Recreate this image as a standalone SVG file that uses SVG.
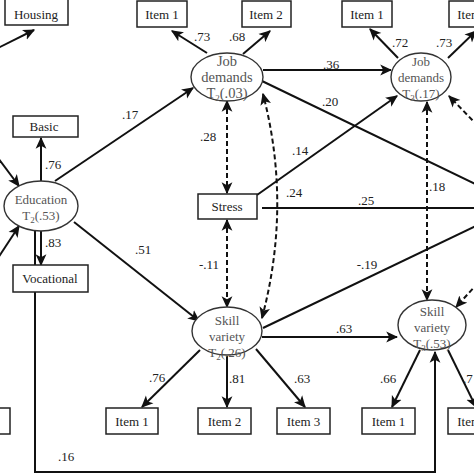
<svg xmlns="http://www.w3.org/2000/svg" width="474" height="474" viewBox="0 0 474 474">
<style>
text{font-family:"Liberation Serif","Times New Roman",serif;font-size:13px;text-anchor:middle;fill:#222}
.lat text{fill:#555}
.box rect{fill:#fff;stroke:#222;stroke-width:1.5}
.lat ellipse{fill:#fff;stroke:#333;stroke-width:1.4}
.c{fill:none;stroke:#111;stroke-width:2}
.a{marker-end:url(#ah)}
.d{fill:none;stroke:#111;stroke-width:2;stroke-dasharray:5,3;marker-start:url(#ah);marker-end:url(#ah)}
.d1{fill:none;stroke:#111;stroke-width:2;stroke-dasharray:5,3;marker-end:url(#ah)}
.lbl{font-size:13px}
#jd2 text{font-size:14.5px}
</style>
<defs>
<marker id="ah" viewBox="0 0 10 10" refX="9" refY="5" markerWidth="12" markerHeight="12" markerUnits="userSpaceOnUse" orient="auto-start-reverse">
<path d="M0,0.5 L10,5 L0,9.5 L2.5,5 z" fill="#111"/>
</marker>
</defs>
<rect width="474" height="474" fill="#fff"/>
<g id="connectors">
<path class="c a" d="M-2,48 L34,30"/>
<path class="c a" d="M-2,158 L19,186"/>
<path class="c a" d="M-2,258 L19,226"/>
<path class="c a" d="M41,182 L41,138"/>
<path class="c a" d="M41,230 L41,265"/>
<path class="c a" d="M35,230 L35,472 L435,472 L435,352" stroke="#555"/>
<path class="c a" d="M55,181 L193,88"/>
<path class="c a" d="M74,222 L199,321"/>
<path class="c a" d="M207,53 L172,31"/>
<path class="c a" d="M243,54 L270,31"/>
<path class="c a" d="M263,70 L391,70"/>
<path class="c" d="M262,81 L490,191"/>
<path class="c a" d="M257,195 L397,96"/>
<path class="c" d="M262,208 L480,208"/>
<path class="c" d="M263,328 L480,224"/>
<path class="c a" d="M262,337 L397,337"/>
<path class="c a" d="M398,58 L370,29"/>
<path class="c a" d="M448,58 L476,31"/>
<path class="c a" d="M200,350 L142,407"/>
<path class="c a" d="M227,356 L227,407"/>
<path class="c a" d="M256,349 L305,407"/>
<path class="c a" d="M420,350 L392,407"/>
<path class="c a" d="M448,350 L476,407"/>
<path class="d" d="M227,101 L227,193"/>
<path class="d" d="M262,318 Q292,205 263,94"/>
<path class="d" d="M227,220 L227,307"/>
<path class="d" d="M427,102 L427,300"/>
<path class="d1" d="M478,126 L449,96"/>
<path class="d1" d="M478,283 L456,307"/>
</g>
<g id="labels" class="lbl">
<text x="202" y="41">.73</text>
<text x="237" y="41">.68</text>
<text x="400" y="47">.72</text>
<text x="444" y="47">.73</text>
<text x="331" y="69">.36</text>
<text x="330" y="106">.20</text>
<text x="300" y="155">.14</text>
<text x="208" y="141">.28</text>
<text x="130" y="119">.17</text>
<text x="53" y="169">.76</text>
<text x="53" y="247">.83</text>
<text x="143" y="254">.51</text>
<text x="294" y="197">.24</text>
<text x="366" y="205">.25</text>
<text x="209" y="269">-.11</text>
<text x="437" y="191">.18</text>
<text x="367" y="269">-.19</text>
<text x="344" y="333">.63</text>
<text x="157" y="382">.76</text>
<text x="237" y="383">.81</text>
<text x="302" y="383">.63</text>
<text x="388" y="383">.66</text>
<text x="463" y="383" style="text-anchor:start">.7</text>
<text x="66" y="461">.16</text>
</g>
<g id="housing" class="box"><rect x="5" y="-5" width="63" height="30"/><text x="36" y="19">Housing</text></g>
<g id="item1-jd2" class="box"><rect x="137" y="1" width="50" height="26"/><text x="162" y="19">Item 1</text></g>
<g id="item2-jd2" class="box"><rect x="242" y="1" width="49" height="26"/><text x="266" y="19">Item 2</text></g>
<g id="item1-jd3" class="box"><rect x="342" y="1" width="50" height="26"/><text x="367" y="19">Item 1</text></g>
<g id="item2-jd3" class="box"><rect x="449" y="1" width="52" height="26"/><text x="474" y="19">Item 2</text></g>
<g id="basic" class="box"><rect x="13" y="116" width="65" height="21"/><text x="44" y="131">Basic</text></g>
<g id="stress" class="box"><rect x="198" y="194" width="59" height="25"/><text x="227" y="211">Stress</text></g>
<g id="vocational" class="box"><rect x="13" y="265" width="75" height="27"/><text x="50" y="283">Vocational</text></g>
<g id="left-box" class="box"><rect x="-40" y="408" width="50" height="26"/></g>
<g id="item1-sv2" class="box"><rect x="106" y="408" width="52" height="26"/><text x="132" y="426">Item 1</text></g>
<g id="item2-sv2" class="box"><rect x="198" y="408" width="53" height="26"/><text x="224.5" y="426">Item 2</text></g>
<g id="item3-sv2" class="box"><rect x="277" y="408" width="53" height="26"/><text x="303.5" y="426">Item 3</text></g>
<g id="item1-sv3" class="box"><rect x="362" y="408" width="53" height="26"/><text x="388.5" y="426">Item 1</text></g>
<g id="item2-sv3" class="box"><rect x="448" y="408" width="56" height="26"/><text x="474" y="426">Item 2</text></g>
<g id="jd2" class="lat"><ellipse cx="227" cy="77" rx="36" ry="24"/>
<text x="227" y="66">Job</text><text x="227" y="82">demands</text><text x="227" y="98">T<tspan font-size="9" dy="3">2</tspan><tspan dy="-3">(.03)</tspan></text></g>
<g id="jd3" class="lat"><ellipse cx="421" cy="77" rx="30" ry="24"/>
<text x="421" y="66">Job</text><text x="421" y="82">demands</text><text x="421" y="98">T<tspan font-size="9" dy="3">3</tspan><tspan dy="-3">(.17)</tspan></text></g>
<g id="education" class="lat"><ellipse cx="41" cy="206" rx="37" ry="25"/>
<text x="41" y="204">Education</text><text x="41" y="220">T<tspan font-size="9" dy="3">2</tspan><tspan dy="-3">(.53)</tspan></text></g>
<g id="sv2" class="lat"><ellipse cx="227" cy="331" rx="35" ry="24"/>
<text x="227" y="325">Skill</text><text x="227" y="341">variety</text><text x="227" y="357">T<tspan font-size="9" dy="3">2</tspan><tspan dy="-3">(.26)</tspan></text></g>
<g id="sv3" class="lat"><ellipse cx="432" cy="325" rx="34" ry="25"/>
<text x="432" y="316">Skill</text><text x="432" y="332">variety</text><text x="432" y="348">T<tspan font-size="9" dy="3">3</tspan><tspan dy="-3">(.53)</tspan></text></g>
</svg>
